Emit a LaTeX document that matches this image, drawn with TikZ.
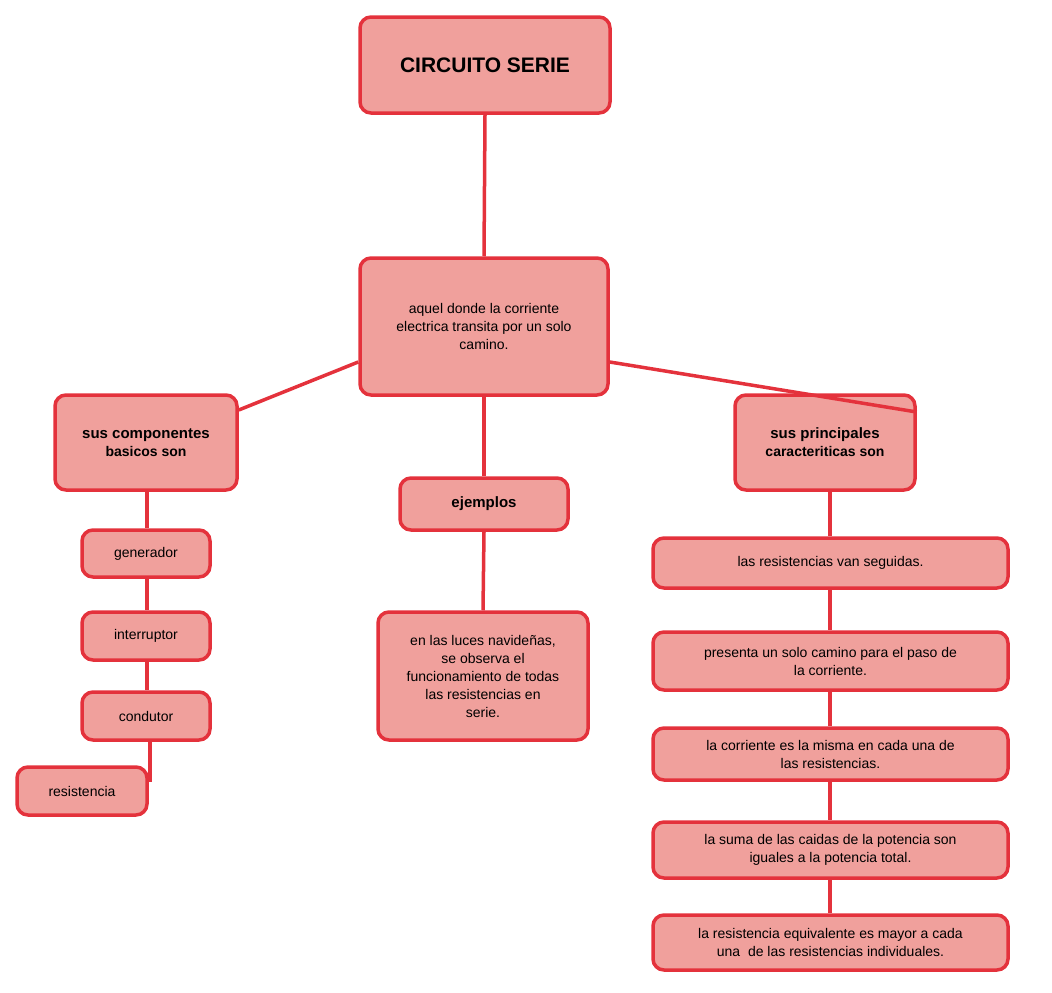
\documentclass[tikz,border=0pt]{standalone}
\usepackage{fontspec}
\setmainfont{Liberation Sans}
\begin{document}
\begin{tikzpicture}[x=1pt,y=-1pt,
 box/.style={draw=red!80!black!90, line width=3.5pt, fill={rgb,255:red,240;green,160;blue,156}, rounded corners=11pt, align=center, inner sep=2pt, font=\fontsize{14}{18}\selectfont},
 lk/.style={draw={rgb,255:red,228;green,50;blue,60}, line width=3.5pt}]
\useasboundingbox (0,0) rectangle (1052,993);
\tikzset{every node/.append style={}}
\def\bx#1#2#3#4#5#6{\node[box,minimum width=#4-#2, minimum height=#5-#3, draw={rgb,255:red,228;green,50;blue,60}] (#1) at ({(#2+#4)/2},{(#3+#5)/2}) {#6};}
\bx{title}{360}{17}{610}{113}{\fontsize{21}{25}\selectfont\bfseries CIRCUITO SERIE}
\bx{def}{360}{258}{608}{395}{aquel donde la corriente\\electrica transita por un solo\\camino.}
\bx{comp}{55}{395}{237}{490}{\fontsize{15}{20}\selectfont\bfseries sus componentes\\\bfseries basicos son}
\bx{ej}{400}{478}{568}{530}{\fontsize{15}{20}\selectfont\bfseries ejemplos}
\bx{car}{735}{395}{915}{490}{\fontsize{15}{20}\selectfont\bfseries sus principales\\\bfseries caracteriticas son}
\bx{gen}{82}{530}{210}{577}{generador}
\bx{int}{82}{612}{210}{660}{interruptor}
\bx{con}{82}{692}{210}{740}{condutor}
\bx{res}{17}{767}{147}{815}{resistencia}
\bx{luc}{378}{612}{588}{740}{en las luces navideñas,\\se observa el\\funcionamiento de todas\\las resistencias en\\serie.}
\bx{r1}{653}{538}{1008}{588}{las resistencias van seguidas.}
\bx{r2}{653}{632}{1008}{690}{presenta un solo camino para el paso de\\la corriente.}
\bx{r3}{653}{728}{1008}{780}{la corriente es la misma en cada una de\\las resistencias.}
\bx{r4}{653}{822}{1008}{878}{la suma de las caidas de la potencia son\\iguales a la potencia total.}
\bx{r5}{653}{915}{1008}{970}{la resistencia equivalente es mayor a cada\\una \ de las resistencias individuales.}
\begin{scope}[on background layer/.try]
\end{scope}
\draw[lk] (title.south) -- (def.north);
\draw[lk] (def.south) -- (ej.north);
\draw[lk] (ej.south) -- (luc.north);
\draw[lk] (def.west |- 0,362) -- (comp.east |- 0,410);
\draw[lk] (def.east |- 0,362) -- (car.east |- 0,412) ++(0,0);
\draw[lk] (comp.south -| 147,0) -- (gen.north -| 147,0);
\draw[lk] (gen.south -| 147,0) -- (int.north -| 147,0);
\draw[lk] (int.south -| 147,0) -- (con.north -| 147,0);
\coordinate (rc) at (150,782);
\draw[lk] (con.south -| 150,0) -- (rc);
\draw[lk] (car.south -| 830,0) -- (r1.north -| 830,0);
\draw[lk] (r1.south -| 830,0) -- (r2.north -| 830,0);
\draw[lk] (r2.south -| 830,0) -- (r3.north -| 830,0);
\draw[lk] (r3.south -| 830,0) -- (r4.north -| 830,0);
\draw[lk] (r4.south -| 830,0) -- (r5.north -| 830,0);
\end{tikzpicture}
\end{document}
